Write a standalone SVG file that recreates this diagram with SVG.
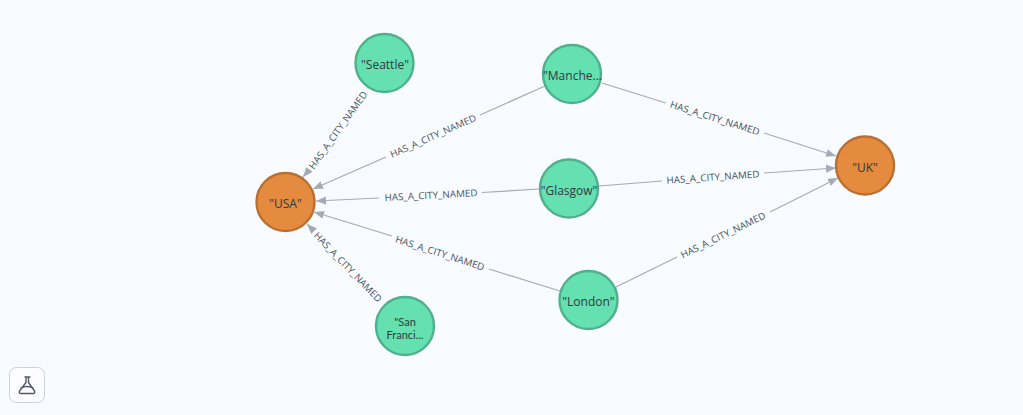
<svg xmlns="http://www.w3.org/2000/svg" width="1023" height="415" viewBox="0 0 1023 415">
<style>
text{font-family:"Open Sans","Noto Sans",sans-serif}
.c{fill:none;stroke:#a5abb6;stroke-width:1.2}
.l{font-size:9.5px;fill:#47505c;text-anchor:middle;dominant-baseline:central}
.n{font-size:12px;fill:#2f3a3d;text-anchor:middle}
.s{font-family:"Lato","Open Sans",sans-serif;font-size:11px}
.g{fill:#65e0b0;stroke:#4fb08b;stroke-width:2.4}
.o{fill:#e58b40;stroke:#b96f32;stroke-width:2.4}
</style>
<defs><marker id="a" markerUnits="userSpaceOnUse" markerWidth="12" markerHeight="10" refX="10" refY="4" orient="auto"><path d="M0 0L10 4L0 8Z" fill="#a5abb6"/></marker></defs>
<rect width="1023" height="415" fill="#f8fbff"/>
<g id="connectors">
<path class="c" marker-end="url(#a)" d="M309 170L303 177"/>
<path class="c" d="M545 86L480 115"/><path class="c" marker-end="url(#a)" d="M386 157L313 189"/>
<path class="c" d="M539 189L482 192.500"/><path class="c" marker-end="url(#a)" d="M379 198L316 201"/>
<path class="c" d="M560 291L489 269"/><path class="c" marker-end="url(#a)" d="M392 236L314 212"/>
<path class="c" marker-end="url(#a)" d="M313 230L307 224"/>
<path class="c" d="M602 83L666 103"/><path class="c" marker-end="url(#a)" d="M764 133L836 156"/>
<path class="c" d="M599 186L662 181"/><path class="c" marker-end="url(#a)" d="M764 173L836 168"/>
<path class="c" d="M616 287L677 257"/><path class="c" marker-end="url(#a)" d="M770 212L838 178"/>
<text class="l" textLength="93" lengthAdjust="spacingAndGlyphs" transform="translate(338 130) rotate(-54.500)">HAS_A_CITY_NAMED</text>
<text class="l" textLength="93" lengthAdjust="spacingAndGlyphs" transform="translate(433 136) rotate(-23.900)">HAS_A_CITY_NAMED</text>
<text class="l" textLength="93" lengthAdjust="spacingAndGlyphs" transform="translate(431 195) rotate(-3)">HAS_A_CITY_NAMED</text>
<text class="l" textLength="93" lengthAdjust="spacingAndGlyphs" transform="translate(440 253) rotate(17.900)">HAS_A_CITY_NAMED</text>
<text class="l" textLength="93" lengthAdjust="spacingAndGlyphs" transform="translate(348 267) rotate(46)">HAS_A_CITY_NAMED</text>
<text class="l" textLength="93" lengthAdjust="spacingAndGlyphs" transform="translate(715 118) rotate(17.500)">HAS_A_CITY_NAMED</text>
<text class="l" textLength="93" lengthAdjust="spacingAndGlyphs" transform="translate(713 177) rotate(-4)">HAS_A_CITY_NAMED</text>
<text class="l" textLength="93" lengthAdjust="spacingAndGlyphs" transform="translate(723 235) rotate(-26)">HAS_A_CITY_NAMED</text>
</g>
<g id="seattle"><circle class="g" cx="384.500" cy="63" r="29"/><text class="n" x="385" y="69">"Seattle"</text></g>
<g id="usa"><circle class="o" cx="285.500" cy="202" r="29"/><text class="n" x="285.500" y="208">"USA"</text></g>
<g id="manchester"><circle class="g" cx="572" cy="74" r="29"/><text class="n" x="572.500" y="80">"Manche...</text></g>
<g id="glasgow"><circle class="g" cx="569" cy="188.500" r="29"/><text class="n" x="569" y="195">"Glasgow"</text></g>
<g id="london"><circle class="g" cx="588.500" cy="300" r="29"/><text class="n" x="588.500" y="306">"London"</text></g>
<g id="san-francisco"><circle class="g" cx="405" cy="326" r="29"/><text class="n s" x="405" y="326"><tspan x="405">"San</tspan><tspan x="405" dy="13.200">Franci...</tspan></text></g>
<g id="uk"><circle class="o" cx="865" cy="165.500" r="29"/><text class="n" x="865" y="171.500">"UK"</text></g>
<g id="flask-button"><rect x="9.500" y="367.500" width="35" height="35" rx="7" fill="#fcfdff" stroke="#cdd1d8"/>
<path d="M25 377H30M26 377V382.500L19.500 391Q18.500 393.500 21 393.500H33Q35.500 393.500 34.500 391L28.500 382.500V377M21 388Q27 385 33 388" fill="none" stroke="#525865" stroke-width="1.400" stroke-linecap="round" stroke-linejoin="round"/></g>
</svg>
